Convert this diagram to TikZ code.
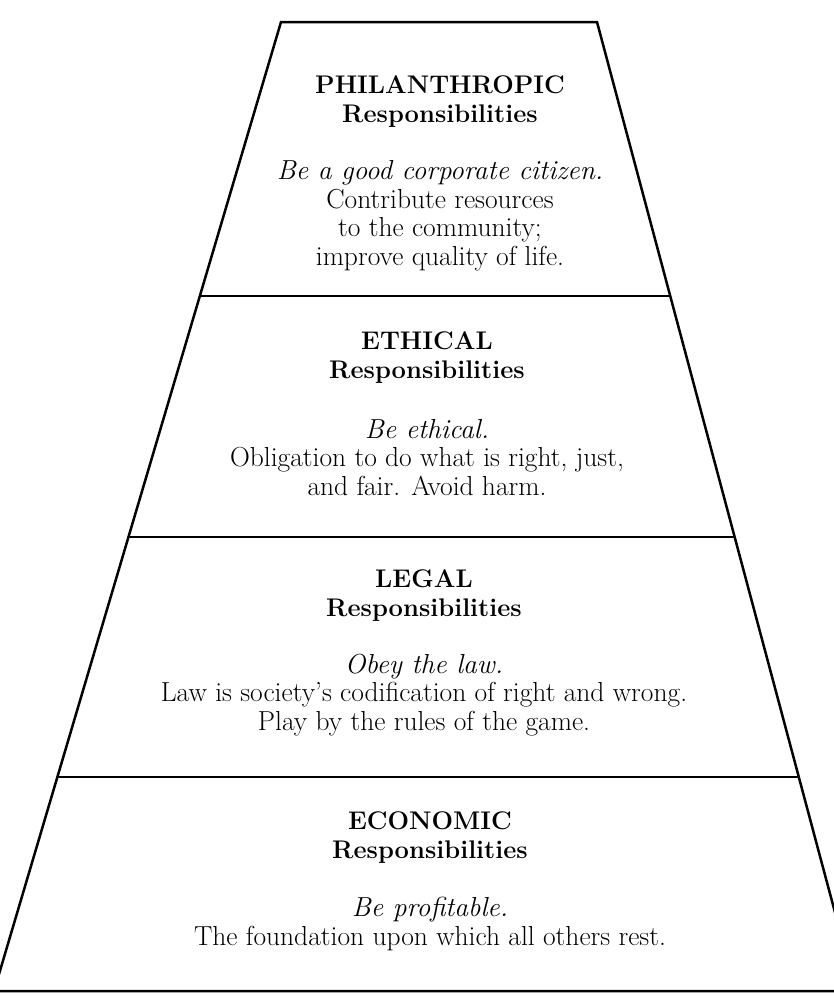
\documentclass[tikz,border=0pt]{standalone}
\usepackage{tikz}
\usetikzlibrary{calc}
\usetikzlibrary{positioning}

\tikzset{
    tierline/.style = {line width = 2.5pt, line join = miter},
    tierhead/.style = {font = \fontsize{25.5}{28.5}\selectfont\bfseries,
        align = center, inner sep = 0pt, anchor = base},
    tierbody/.style = {font = \fontsize{27.5}{28.5}\selectfont,
        align = center, inner sep = 0pt, anchor = base}
}

\begin{document}
\begin{tikzpicture}[x = 1pt, y = -1pt]
            \useasboundingbox (0, 0) rectangle (834, 1005);
            \clip (0, 0) rectangle (834, 1005);

            \coordinate (tl) at (281, 22);
            \coordinate (tr) at (597, 22);
            \coordinate (bl) at (-6, 991);
            \coordinate (br) at (856, 991);
            \draw[tierline] (tl) -- (tr) -- (br) -- (bl) -- cycle;

            % dividers between the tiers
            \foreach \f in {0.2828, 0.5315, 0.7792}
                \draw[tierline] ($(tl)!\f!(bl)$) -- ($(tr)!\f!(br)$);

            % base anchor sits on the last line of each node
            \node[tierhead] (philhead) at (440, 122) {PHILANTHROPIC\\Responsibilities};
            \node[tierbody] (philbody) at (440, 265) {\textit{Be a good corporate citizen.}\\
                Contribute resources\\to the community;\\improve quality of life.};

            \node[tierhead] (ethhead) at (427, 378) {ETHICAL\\Responsibilities};
            \node[tierbody] (ethbody) at (427, 495) {\textit{Be ethical.}\\
                Obligation to do what is right, just,\\and fair. Avoid harm.};

            \node[tierhead] (leghead) at (424, 616) {LEGAL\\Responsibilities};
            \node[tierbody] (legbody) at (424, 730) {\textit{Obey the law.}\\
                Law is society's codification of right and wrong.\\Play by the rules of the game.};

            \node[tierhead] (ecohead) at (430, 858) {ECONOMIC\\Responsibilities};
            \node[tierbody] (ecobody) at (430, 945) {\textit{Be profitable.}\\
                The foundation upon which all others rest.};
        \end{tikzpicture}
\end{document}
